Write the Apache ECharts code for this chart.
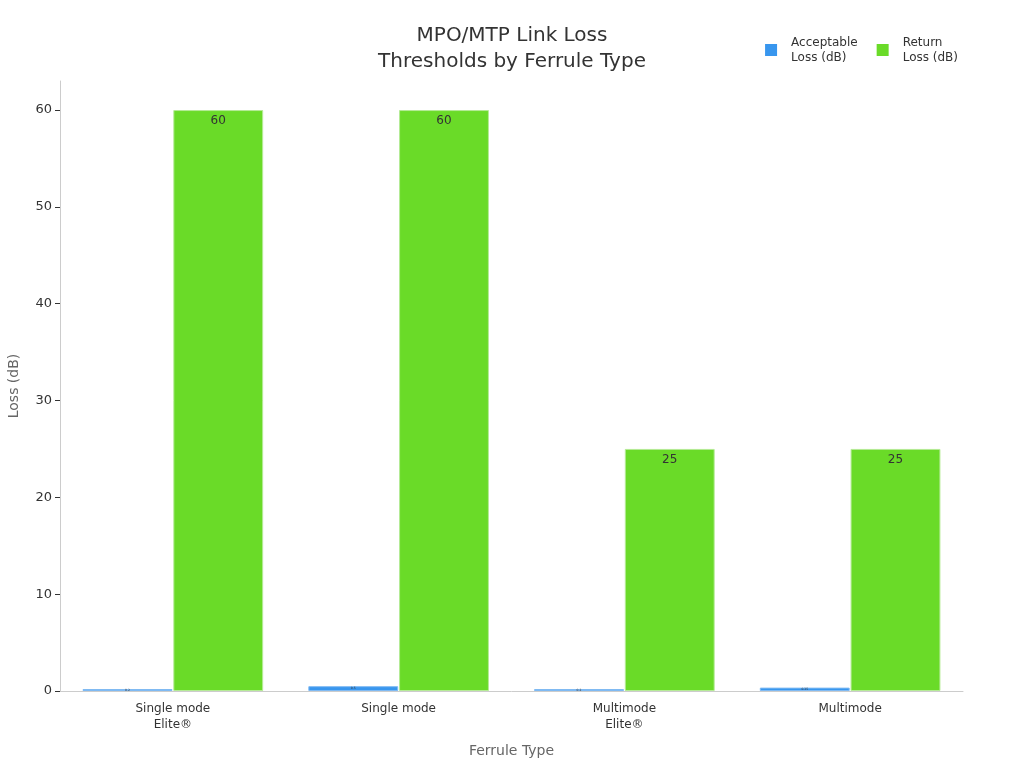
<!DOCTYPE html>
<html><head><meta charset="utf-8">
<script src="https://cdn.jsdelivr.net/npm/echarts@6/dist/echarts.min.js"></script>
<style>html,body{margin:0;padding:0;background:#fff}#c{width:1024px;height:768px}</style>
</head><body><div id="c"></div>
<script>
const categories = ['Single mode\nElite®', 'Single mode', 'Multimode\nElite®', 'Multimode'];
const acceptableLoss = [0.2, 0.5, 0.2, 0.35];
const returnLoss = [60, 60, 25, 25];
const seriesNames = ['Acceptable\nLoss (dB)', 'Return\nLoss (dB)'];
const yTicks = [0, 10, 20, 30, 40, 50, 60];

const chart = echarts.init(document.getElementById('c'));
const font = 'DejaVu Sans';
chart.setOption({
  textStyle: {fontFamily: font},
  title: {
    text: 'MPO/MTP Link Loss\nThresholds by Ferrule Type',
    left: 'center', top: 18,
    textStyle: {fontFamily: font, fontSize: 20, fontWeight: 'normal', color: '#333', lineHeight: 26}
  },
  legend: {
    right: 61, top: 30, itemWidth: 12, itemHeight: 12, itemGap: 19,
    icon: 'rect',
    itemStyle: {borderWidth: 0},
    textStyle: {fontFamily: font, fontSize: 12, color: '#333', lineHeight: 15, padding: [0, 0, 0, 9]}
  },
  grid: {left: 60, right: 61, top: 81, bottom: 77, outerBoundsMode: 'none', containLabel: false},
  xAxis: {
    type: 'category', data: categories,
    name: 'Ferrule Type', nameLocation: 'middle', nameGap: 53,
    nameTextStyle: {fontFamily: font, fontSize: 14, color: '#666'},
    axisLine: {lineStyle: {color: '#ccc'}},
    axisTick: {alignWithLabel: true, lineStyle: {color: '#333'}},
    axisLabel: {fontFamily: font, fontSize: 12, color: '#333', lineHeight: 16, margin: 10}
  },
  yAxis: {
    type: 'value', min: 0, max: 63, interval: 10,
    name: 'Loss (dB)', nameLocation: 'middle', nameGap: 39,
    nameTextStyle: {fontFamily: font, fontSize: 14, color: '#666'},
    axisLine: {show: true, lineStyle: {color: '#ccc'}},
    axisTick: {show: true, customValues: yTicks, lineStyle: {color: '#333'}},
    splitLine: {show: false},
    axisLabel: {fontFamily: font, fontSize: 13, color: '#333', customValues: yTicks}
  },
  series: [
    {
      name: seriesNames[0], type: 'bar', data: acceptableLoss,
      barGap: '1%', barCategoryGap: '20%',
      itemStyle: {color: '#3896ee', borderColor: '#7fbaf3', borderWidth: 1},
      label: {show: true, position: 'inside', fontSize: 3, color: '#333', fontFamily: font}
    },
    {
      name: seriesNames[1], type: 'bar', data: returnLoss,
      itemStyle: {color: '#6adb28', borderColor: '#b5eb96', borderWidth: 1},
      label: {show: true, position: 'insideTop', fontSize: 12, color: '#333', fontFamily: font, distance: 5}
    }
  ]
});
</script></body></html>
